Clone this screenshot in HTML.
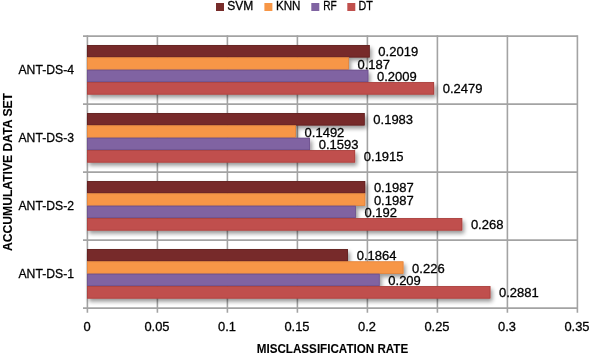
<!DOCTYPE html><html><head><meta charset="utf-8"><style>html,body{margin:0;padding:0;background:#fff;width:590px;height:354px;overflow:hidden}svg{display:block}text{font-family:"Liberation Sans",sans-serif;fill:#000;stroke:#000;stroke-width:0.3px}svg{will-change:transform}</style></head><body>
<svg width="590" height="354" viewBox="0 0 590 354">
<defs><filter id="sh" x="-5%" y="-50%" width="115%" height="250%"><feGaussianBlur in="SourceAlpha" stdDeviation="1.9"/><feOffset dx="2.2" dy="3" result="b"/><feComponentTransfer><feFuncA type="linear" slope="0.42"/></feComponentTransfer><feMerge><feMergeNode/><feMergeNode in="SourceGraphic"/></feMerge></filter></defs>
<line x1="87.4" y1="35.30" x2="87.4" y2="312.8" stroke="#A3A3A3" stroke-width="1.6"/>
<line x1="157.4" y1="35.30" x2="157.4" y2="312.8" stroke="#A3A3A3" stroke-width="1.6"/>
<line x1="227.4" y1="35.30" x2="227.4" y2="312.8" stroke="#A3A3A3" stroke-width="1.6"/>
<line x1="297.4" y1="35.30" x2="297.4" y2="312.8" stroke="#A3A3A3" stroke-width="1.6"/>
<line x1="367.4" y1="35.30" x2="367.4" y2="312.8" stroke="#A3A3A3" stroke-width="1.6"/>
<line x1="437.4" y1="35.30" x2="437.4" y2="312.8" stroke="#A3A3A3" stroke-width="1.6"/>
<line x1="507.4" y1="35.30" x2="507.4" y2="312.8" stroke="#A3A3A3" stroke-width="1.6"/>
<line x1="577.4" y1="35.30" x2="577.4" y2="312.8" stroke="#A3A3A3" stroke-width="1.6"/>
<line x1="83" y1="36.099999999999994" x2="577.4" y2="36.099999999999994" stroke="#A3A3A3" stroke-width="1.6"/>
<line x1="83" y1="104.1" x2="577.4" y2="104.1" stroke="#A3A3A3" stroke-width="1.6"/>
<line x1="83" y1="172.10000000000002" x2="577.4" y2="172.10000000000002" stroke="#A3A3A3" stroke-width="1.6"/>
<line x1="83" y1="240.10000000000002" x2="577.4" y2="240.10000000000002" stroke="#A3A3A3" stroke-width="1.6"/>
<line x1="83" y1="308.1" x2="577.4" y2="308.1" stroke="#A3A3A3" stroke-width="1.6"/>
<text x="74" y="74.20" font-size="12.9" text-anchor="end" textLength="55.5" lengthAdjust="spacingAndGlyphs">ANT-DS-4</text>
<rect x="87" y="45.07" width="282.66" height="12.36" fill="#772C2A" filter="url(#sh)"/>
<rect x="87.35" y="45.42" width="281.96" height="11.66" fill="none" stroke="#5E1E1E" stroke-width="0.7"/>
<rect x="87" y="57.43" width="261.80" height="12.36" fill="#F79646" filter="url(#sh)"/>
<rect x="87.35" y="57.78" width="261.10" height="11.66" fill="none" stroke="#E0803A" stroke-width="0.7"/>
<rect x="87" y="69.79" width="281.26" height="12.36" fill="#8064A2" filter="url(#sh)"/>
<rect x="87.35" y="70.14" width="280.56" height="11.66" fill="none" stroke="#6A4F8C" stroke-width="0.7"/>
<rect x="87" y="82.15" width="347.06" height="12.36" fill="#C0504D" filter="url(#sh)"/>
<rect x="87.35" y="82.50" width="346.36" height="11.66" fill="none" stroke="#A53E3B" stroke-width="0.7"/>
<text x="74" y="142.20" font-size="12.9" text-anchor="end" textLength="55.5" lengthAdjust="spacingAndGlyphs">ANT-DS-3</text>
<rect x="87" y="113.07" width="277.62" height="12.36" fill="#772C2A" filter="url(#sh)"/>
<rect x="87.35" y="113.42" width="276.92" height="11.66" fill="none" stroke="#5E1E1E" stroke-width="0.7"/>
<rect x="87" y="125.43" width="208.88" height="12.36" fill="#F79646" filter="url(#sh)"/>
<rect x="87.35" y="125.78" width="208.18" height="11.66" fill="none" stroke="#E0803A" stroke-width="0.7"/>
<rect x="87" y="137.79" width="223.02" height="12.36" fill="#8064A2" filter="url(#sh)"/>
<rect x="87.35" y="138.14" width="222.32" height="11.66" fill="none" stroke="#6A4F8C" stroke-width="0.7"/>
<rect x="87" y="150.15" width="268.10" height="12.36" fill="#C0504D" filter="url(#sh)"/>
<rect x="87.35" y="150.50" width="267.40" height="11.66" fill="none" stroke="#A53E3B" stroke-width="0.7"/>
<text x="74" y="210.20" font-size="12.9" text-anchor="end" textLength="55.5" lengthAdjust="spacingAndGlyphs">ANT-DS-2</text>
<rect x="87" y="181.07" width="278.18" height="12.36" fill="#772C2A" filter="url(#sh)"/>
<rect x="87.35" y="181.42" width="277.48" height="11.66" fill="none" stroke="#5E1E1E" stroke-width="0.7"/>
<rect x="87" y="193.43" width="278.18" height="12.36" fill="#F79646" filter="url(#sh)"/>
<rect x="87.35" y="193.78" width="277.48" height="11.66" fill="none" stroke="#E0803A" stroke-width="0.7"/>
<rect x="87" y="205.79" width="268.80" height="12.36" fill="#8064A2" filter="url(#sh)"/>
<rect x="87.35" y="206.14" width="268.10" height="11.66" fill="none" stroke="#6A4F8C" stroke-width="0.7"/>
<rect x="87" y="218.15" width="375.20" height="12.36" fill="#C0504D" filter="url(#sh)"/>
<rect x="87.35" y="218.50" width="374.50" height="11.66" fill="none" stroke="#A53E3B" stroke-width="0.7"/>
<text x="74" y="278.20" font-size="12.9" text-anchor="end" textLength="55.5" lengthAdjust="spacingAndGlyphs">ANT-DS-1</text>
<rect x="87" y="249.07" width="260.96" height="12.36" fill="#772C2A" filter="url(#sh)"/>
<rect x="87.35" y="249.42" width="260.26" height="11.66" fill="none" stroke="#5E1E1E" stroke-width="0.7"/>
<rect x="87" y="261.43" width="316.40" height="12.36" fill="#F79646" filter="url(#sh)"/>
<rect x="87.35" y="261.78" width="315.70" height="11.66" fill="none" stroke="#E0803A" stroke-width="0.7"/>
<rect x="87" y="273.79" width="292.60" height="12.36" fill="#8064A2" filter="url(#sh)"/>
<rect x="87.35" y="274.14" width="291.90" height="11.66" fill="none" stroke="#6A4F8C" stroke-width="0.7"/>
<rect x="87" y="286.15" width="403.34" height="12.36" fill="#C0504D" filter="url(#sh)"/>
<rect x="87.35" y="286.50" width="402.64" height="11.66" fill="none" stroke="#A53E3B" stroke-width="0.7"/>
<text x="378.36" y="56.25" font-size="13" letter-spacing="0">0.2019</text>
<text x="357.50" y="68.61" font-size="13" letter-spacing="0">0.187</text>
<text x="376.96" y="80.97" font-size="13" letter-spacing="0">0.2009</text>
<text x="442.76" y="93.33" font-size="13" letter-spacing="0">0.2479</text>
<text x="373.32" y="124.25" font-size="13" letter-spacing="0">0.1983</text>
<text x="304.58" y="136.61" font-size="13" letter-spacing="0">0.1492</text>
<text x="318.72" y="148.97" font-size="13" letter-spacing="0">0.1593</text>
<text x="363.80" y="161.33" font-size="13" letter-spacing="0">0.1915</text>
<text x="373.88" y="192.25" font-size="13" letter-spacing="0">0.1987</text>
<text x="373.88" y="204.61" font-size="13" letter-spacing="0">0.1987</text>
<text x="364.50" y="216.97" font-size="13" letter-spacing="0">0.192</text>
<text x="470.90" y="229.33" font-size="13" letter-spacing="0">0.268</text>
<text x="356.66" y="260.25" font-size="13" letter-spacing="0">0.1864</text>
<text x="412.10" y="272.61" font-size="13" letter-spacing="0">0.226</text>
<text x="388.30" y="284.97" font-size="13" letter-spacing="0">0.209</text>
<text x="499.04" y="297.33" font-size="13" letter-spacing="0">0.2881</text>
<text x="87" y="331.3" font-size="12.9" text-anchor="middle">0</text>
<text x="157" y="331.3" font-size="12.9" text-anchor="middle">0.05</text>
<text x="227" y="331.3" font-size="12.9" text-anchor="middle">0.1</text>
<text x="297" y="331.3" font-size="12.9" text-anchor="middle">0.15</text>
<text x="367" y="331.3" font-size="12.9" text-anchor="middle">0.2</text>
<text x="437" y="331.3" font-size="12.9" text-anchor="middle">0.25</text>
<text x="507" y="331.3" font-size="12.9" text-anchor="middle">0.3</text>
<text x="577" y="331.3" font-size="12.9" text-anchor="middle">0.35</text>
<text x="332.5" y="353" font-size="13" font-weight="bold" style="stroke-width:0.1px" text-anchor="middle" textLength="151.5" lengthAdjust="spacingAndGlyphs">MISCLASSIFICATION RATE</text>
<text transform="translate(11.6,172) rotate(-90)" x="0" y="0" font-size="12.8" font-weight="bold" style="stroke-width:0.1px" text-anchor="middle" textLength="158" lengthAdjust="spacingAndGlyphs">ACCUMULATIVE DATA SET</text>
<rect x="216" y="3" width="8" height="8" fill="#772C2A"/>
<text x="227.2" y="10.4" font-size="13.2" textLength="26" lengthAdjust="spacingAndGlyphs">SVM</text>
<rect x="264.4" y="3" width="8" height="8" fill="#F79646"/>
<text x="276" y="10.4" font-size="13.2" textLength="24.5" lengthAdjust="spacingAndGlyphs">KNN</text>
<rect x="311.3" y="3" width="8" height="8" fill="#8064A2"/>
<text x="323.3" y="10.4" font-size="13.2" textLength="13.5" lengthAdjust="spacingAndGlyphs">RF</text>
<rect x="347.3" y="3" width="8" height="8" fill="#C0504D"/>
<text x="358.5" y="10.4" font-size="13.2" textLength="14.3" lengthAdjust="spacingAndGlyphs">DT</text>
</svg></body></html>
